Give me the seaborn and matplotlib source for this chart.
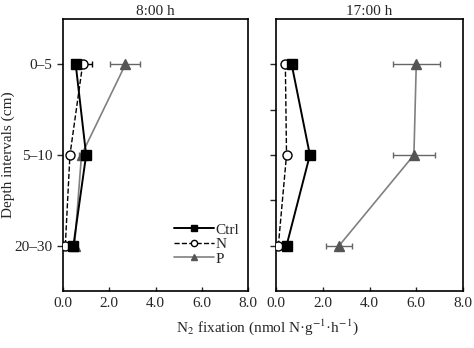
import matplotlib
matplotlib.use("Agg")
import matplotlib.pyplot as plt
import seaborn as sns
import numpy as np
import pandas as pd

sns.set_theme(style="ticks")
plt.rcParams['font.family'] = ['Liberation Serif', 'DejaVu Serif']
plt.rcParams['mathtext.fontset'] = 'stix'

depths = ["0–5", "5–10", "20–30"]
panels = ["8:00 h", "17:00 h"]
series = ["Ctrl", "N", "P"]

# 8:00 h
ctrl_8 = [0.55, 1.0, 0.45]
ctrl_8_err = [0.1, 0.15, 0.05]
n_8 = [0.85, 0.3, 0.1]
n_8_err = [0.4, 0.05, 0.05]
p_8 = [2.7, 0.8, 0.5]
p_8_err = [0.65, 0.1, 0.05]

# 17:00 h
ctrl_17 = [0.67, 1.45, 0.45]
ctrl_17_err = [0.1, 0.1, 0.1]
n_17 = [0.4, 0.45, 0.1]
n_17_err = [0.05, 0.05, 0.05]
p_17 = [6.0, 5.9, 2.7]
p_17_err = [1.0, 0.9, 0.55]

data = {
    "8:00 h": {"Ctrl": (ctrl_8, ctrl_8_err), "N": (n_8, n_8_err), "P": (p_8, p_8_err)},
    "17:00 h": {"Ctrl": (ctrl_17, ctrl_17_err), "N": (n_17, n_17_err), "P": (p_17, p_17_err)},
}

styles = {
    "Ctrl": dict(color="black", marker="s", mfc="black", mec="black", ls="-", ms=7, lw=1.4, ecolor="black"),
    "N": dict(color="black", marker="o", mfc="white", mec="black", ls="--", ms=6.5, lw=1.0, ecolor="black"),
    "P": dict(color="#808080", marker="^", mfc="#555555", mec="#555555", ls="-", ms=7.5, lw=1.2, ecolor="#666666"),
}

FS = 11

fig = plt.figure(figsize=(4.74, 3.48), dpi=100)
ax1 = fig.add_axes([63/474, 1-291/348, 185/474, 272/348])
ax2 = fig.add_axes([276/474, 1-291/348, 187/474, 272/348])
pos = np.arange(len(depths))

for ax, panel in zip([ax1, ax2], panels):
    order = ["P", "N", "Ctrl"]
    for s in order:
        vals, errs = data[panel][s]
        st = styles[s]
        df = pd.DataFrame({"x": vals, "y": pos})
        ax.errorbar(vals, pos, xerr=errs, fmt="none", ecolor=st["ecolor"], elinewidth=1.0,
                    capsize=2.5, capthick=1.0, zorder=2)
        sns.lineplot(data=df, x="x", y="y", orient="y", sort=False, ax=ax,
                     color=st["color"], marker=st["marker"], markerfacecolor=st["mfc"],
                     markeredgecolor=st["mec"], markeredgewidth=1.0, markersize=st["ms"],
                     linestyle=st["ls"], linewidth=st["lw"], label=s, legend=False, zorder=3)
    ax.set_xlim(0, 8)
    ax.set_ylim(2.5, -0.5)
    ax.set_xticks([0, 2, 4, 6, 8])
    ax.set_xticklabels(["0.0", "2.0", "4.0", "6.0", "8.0"], fontsize=FS)
    ax.set_yticks(pos)
    ax.tick_params(axis="x", direction="in", length=3, width=1.0, pad=4)
    ax.tick_params(axis="y", which="both", direction="out", length=4, width=1.0)
    ax.set_xlabel("")
    ax.set_ylabel("")
    ax.set_title(panel, fontsize=FS, pad=3)
    for sp in ax.spines.values():
        sp.set_linewidth(1.2)
        sp.set_color("black")

ax2.set_yticks([0.5, 1.5], minor=True)
ax1.set_yticklabels(depths, fontsize=FS)
ax2.set_yticklabels([])

from matplotlib.lines import Line2D
handles = []
for s in series:
    st = styles[s]
    handles.append(Line2D([], [], color=st["color"], marker=st["marker"], markerfacecolor=st["mfc"],
                          markeredgecolor=st["mec"], markersize=4.5, linestyle=st["ls"], linewidth=st["lw"]))
ax1.legend(handles, series, loc="lower right", bbox_to_anchor=(1.0, 0.06), frameon=False,
           fontsize=FS, handlelength=2.6, handletextpad=0.1, labelspacing=0.05, borderaxespad=0.2)

fig.text(8/474, 1-155/348, "Depth intervals (cm)", rotation=90, ha="center", va="center", fontsize=FS)
fig.text(267/474, 1-327/348, r"N$_2$ fixation (nmol N·g$^{-1}$·h$^{-1}$)", ha="center", va="center", fontsize=FS)

fig.savefig("out.png", dpi=100)
